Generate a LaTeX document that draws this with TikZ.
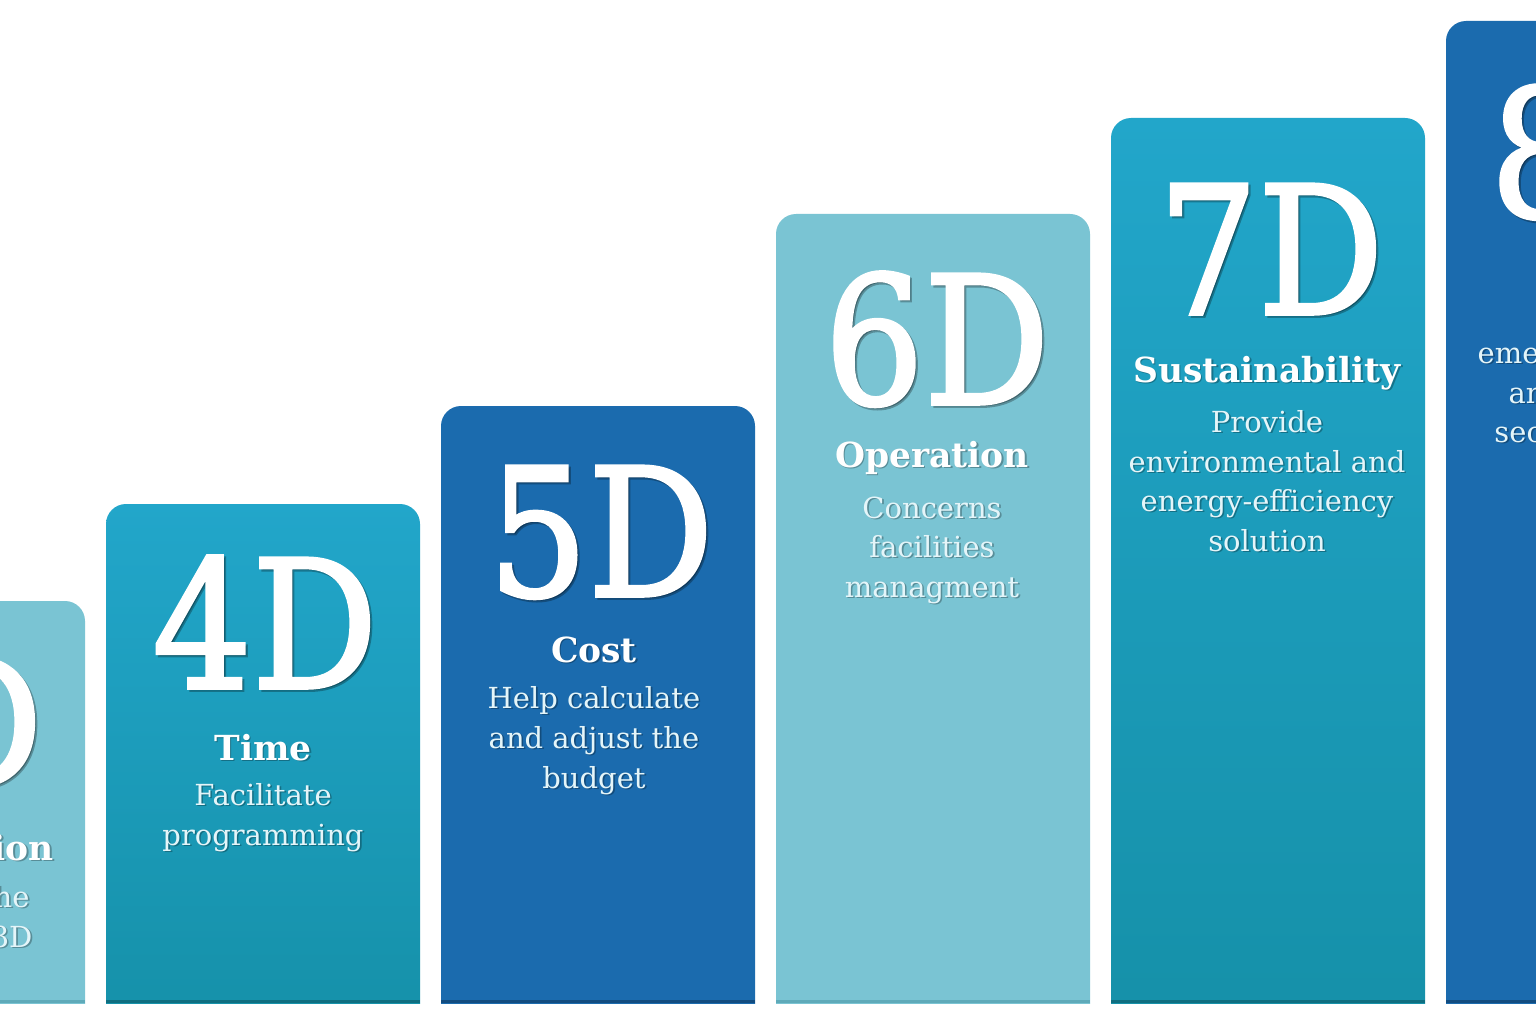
\documentclass[tikz,border=0pt]{standalone}
\usepackage{fontspec}
\usepackage{graphicx}
\setmainfont{DejaVu Serif}
\newfontface\bigface{DejaVu Serif}[FakeBold=2]
\definecolor{lightteal}{HTML}{7AC4D3}
\definecolor{lighttealdk}{HTML}{5FAAB9}
\definecolor{tealtop}{HTML}{22A6CA}
\definecolor{tealbot}{HTML}{1590A8}
\definecolor{tealdk}{HTML}{0F6E80}
\definecolor{darkblue}{HTML}{1B6BAE}
\definecolor{darkbluedk}{HTML}{124C80}
\definecolor{subc}{HTML}{E4F5F9}
\tikzset{
  bigtxt/.style={text=white, inner sep=0pt, anchor=base, font=\bigface\fontsize{178}{178}\selectfont},
  ttltxt/.style={text=white, inner sep=0pt, anchor=base, font=\bfseries\fontsize{34.5}{35}\selectfont},
  subtxt/.style={text=subc, inner sep=0pt, anchor=base, font=\fontsize{29}{29}\selectfont},
  shadowtxt/.style={text=black, text opacity=0.28},
  flatlight/.style={fill=lightteal},
  flatdark/.style={fill=darkblue},
  gradteal/.style={top color=tealtop, bottom color=tealbot},
}
% bar: xl, top, fill style, bottom line colour
\newcommand\dimbar[4]{%
  \begin{scope}
    \clip (#1-5,0) rectangle (#1+319,1003);
    \path[#3, rounded corners=20pt] (#1,#2) rectangle (#1+314,1040);
  \end{scope}
  \fill[#4] (#1,1000) rectangle (#1+314,1003);
}
% label: name, x, baseline y, style, text
\newcommand\lbl[5]{%
  \node[#4, shadowtxt] at (#2+1.6,#3+1.6) {#5};
  \node[#4] (#1) at (#2,#3) {#5};
}
\newcommand\bigd[4]{%
  \node[bigtxt, shadowtxt] at (#2+2.2,#3+2.2) {\scalebox{0.88}[1]{#4}};
  \node[bigtxt] (#1) at (#2,#3) {\scalebox{0.88}[1]{#4}};
}
\begin{document}
\begin{tikzpicture}[x=1pt,y=-1pt]
\useasboundingbox (0,0) rectangle (1536,1024);
\fill[white] (0,0) rectangle (1536,1024);
\clip (0,0) rectangle (1536,1024);

% bars
\dimbar{-229}{601}{flatlight}{lighttealdk}
\dimbar{106}{504}{gradteal}{tealdk}
\dimbar{441}{406}{flatdark}{darkbluedk}
\dimbar{776}{214}{flatlight}{lighttealdk}
\dimbar{1111}{118}{gradteal}{tealdk}
\dimbar{1446}{21}{flatdark}{darkbluedk}

% 3D
\bigd{d3}{-70}{787}{3D}
\lbl{t3}{-72}{860}{ttltxt}{Visualization}
\lbl{s3a}{-72}{907}{subtxt}{Visualizes the}
\lbl{s3b}{-72}{947}{subtxt}{building in 3D}

% 4D
\bigd{d4}{265}{688}{4D}
\lbl{t4}{263}{760}{ttltxt}{Time}
\lbl{s4a}{263}{805}{subtxt}{Facilitate}
\lbl{s4b}{263}{845}{subtxt}{programming}

% 5D
\bigd{d5}{601}{596}{5D}
\lbl{t5}{594}{662}{ttltxt}{Cost}
\lbl{s5a}{594}{708}{subtxt}{Help calculate}
\lbl{s5b}{594}{748}{subtxt}{and adjust the}
\lbl{s5c}{594}{788}{subtxt}{budget}

% 6D
\bigd{d6}{937}{404}{6D}
\lbl{t6}{932}{467}{ttltxt}{Operation}
\lbl{s6a}{932}{518}{subtxt}{Concerns}
\lbl{s6b}{932}{557}{subtxt}{facilities}
\lbl{s6c}{932}{597}{subtxt}{managment}

% 7D
\bigd{d7}{1271}{314}{7D}
\lbl{t7}{1267}{382}{ttltxt}{Sustainability}
\lbl{s7a}{1267}{432}{subtxt}{Provide}
\lbl{s7b}{1267}{472}{subtxt}{environmental and}
\lbl{s7c}{1267}{511}{subtxt}{energy-efficiency}
\lbl{s7d}{1267}{551}{subtxt}{solution}

% 8D
\bigd{d8}{1603}{217}{8D}
\lbl{s8a}{1603}{363}{subtxt}{emergency plans}
\lbl{s8b}{1603}{403}{subtxt}{and accident}
\lbl{s8c}{1603}{442}{subtxt}{security issues}
\end{tikzpicture}
\end{document}
